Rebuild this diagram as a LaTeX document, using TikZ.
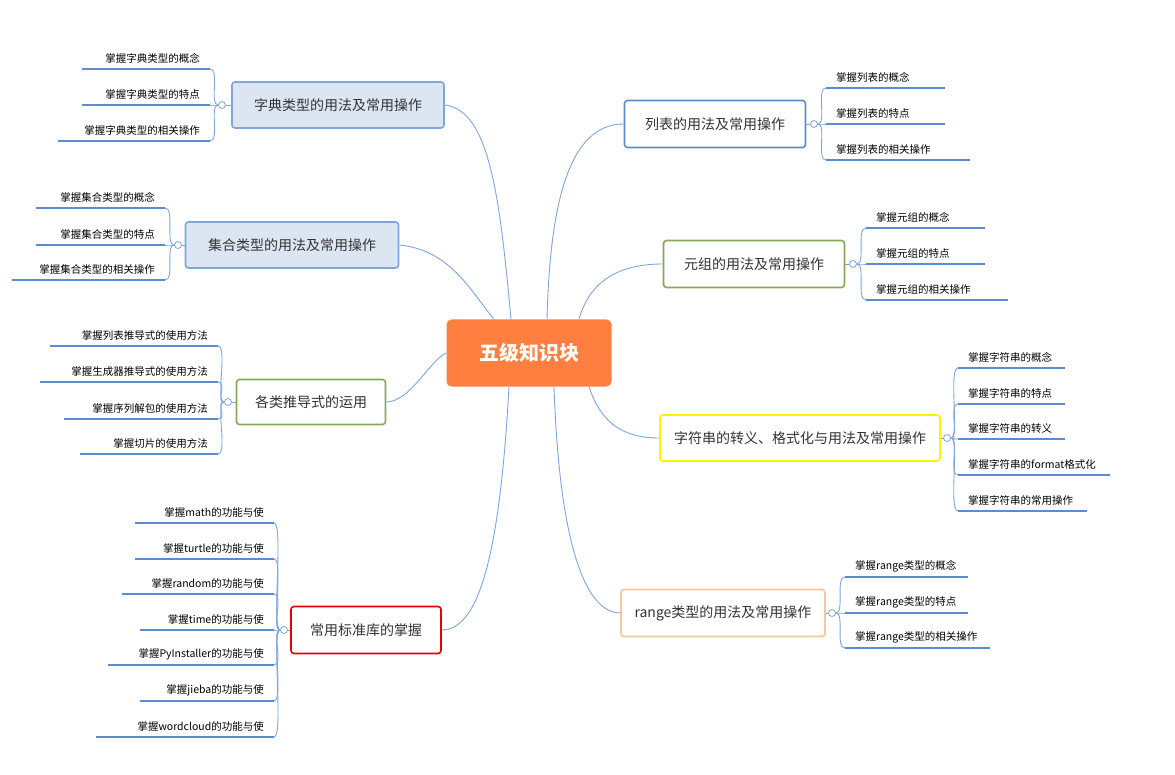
\documentclass[tikz,border=0pt]{standalone}
\usepackage{fontspec}
\setmainfont{Noto Sans CJK SC}
\usetikzlibrary{calc}
\definecolor{ln}{HTML}{7FA5DA}
\definecolor{ul}{HTML}{5B8BD0}
\definecolor{dkb}{HTML}{DCE6F2}
\definecolor{dbord}{HTML}{7EA6DC}
\definecolor{orng}{HTML}{FF7F40}
\definecolor{grn}{HTML}{8AA65A}
\definecolor{yel}{HTML}{FFF200}
\definecolor{peach}{HTML}{FAC59A}
\tikzset{
 mainbox/.style={draw,line width=1.6pt,rounded corners=3pt,minimum height=46pt,font=\fontsize{14}{16}\selectfont,text=black!80,anchor=center,inner sep=0pt},
 leaf/.style={font=\fontsize{10.5}{12}\selectfont,inner sep=0pt,text=black},
 hub/.style={circle,draw=ln,fill=white,minimum size=7pt,inner sep=0pt,line width=0.8pt},
 br/.style={draw=ln,line width=0.9pt},
 uline/.style={draw=ul,line width=2.2pt}
}
\newcommand{\leafL}[6]{%
 \coordinate (#1r) at (#5,#3); \coordinate (#1l) at (#4,#3);
 \draw[br] (#2.west) .. controls ($(#2.west)+(-9,0)$) and ($(#1r)+(10,0)$) .. (#1r);
 \draw[uline] (#1l) -- (#1r);
 \node[leaf,anchor=south east] (#1) at ([xshift=-10pt,yshift=5pt]#1r) {#6};}
\newcommand{\leafR}[6]{%
 \coordinate (#1l) at (#4,#3); \coordinate (#1r) at (#5,#3);
 \draw[br] (#2.east) .. controls ($(#2.east)+(9,0)$) and ($(#1l)+(-10,0)$) .. (#1l);
 \draw[uline] (#1l) -- (#1r);
 \node[leaf,anchor=south west] (#1) at ([xshift=10pt,yshift=5pt]#1l) {#6};}
\begin{document}
\begin{tikzpicture}[x=1pt,y=-1pt]
\useasboundingbox (0,0) rectangle (1175,775);
\node[fill=orng,rounded corners=5pt,minimum width=165pt,minimum height=67pt,text=white,font=\fontsize{20}{22}\selectfont\bfseries] (c) at (529,353) {五级知识块};
\node[mainbox,draw=dbord,fill=dkb,minimum width=212pt] (d) at (338,105) {字典类型的用法及常用操作};
\node[mainbox,draw=dbord,fill=dkb,minimum width=213pt] (s) at (292,245) {集合类型的用法及常用操作};
\node[mainbox,draw=grn,fill=white,minimum width=149pt,minimum height=45pt] (g) at (311,402) {各类推导式的运用};
\node[mainbox,draw=red!90!black,fill=white,minimum width=150pt,minimum height=47pt] (k) at (366,630) {常用标准库的掌握};
\node[mainbox,draw=ul,fill=white,minimum width=181pt,minimum height=47pt] (l) at (715,124) {列表的用法及常用操作};
\node[mainbox,draw=grn,fill=white,minimum width=181pt,minimum height=47pt] (y) at (754,264) {元组的用法及常用操作};
\node[mainbox,draw=yel,fill=white,minimum width=280pt,minimum height=46pt] (z) at (800,438) {字符串的转义、格式化与用法及常用操作};
\node[mainbox,draw=peach,fill=white,minimum width=204pt,minimum height=47pt] (r) at (723,613) {range类型的用法及常用操作};
\draw[br] ([xshift=-18pt]c.north) .. controls (500,200) and (490,110) .. (d.east);
\draw[br] ([xshift=-35pt]c.north) .. controls (470,290) and (450,250) .. (s.east);
\draw[br] (c.west) .. controls (430,360) and (410,402) .. (g.east);
\draw[br] ([xshift=-20pt]c.south) .. controls (500,550) and (480,630) .. (k.east);
\draw[br] ([xshift=18pt]c.north) .. controls (550,200) and (570,124) .. (l.west);
\draw[br] ([xshift=50pt]c.north) .. controls (590,280) and (620,264) .. (y.west);
\draw[br] ([xshift=60pt]c.south) .. controls (600,420) and (620,438) .. (z.west);
\draw[br] ([xshift=25pt]c.south) .. controls (560,560) and (590,613) .. (r.west);
\node[hub] (hd) at (222,105) {};
\node[hub] (hs) at (178,245) {};
\node[hub] (hg) at (228,402) {};
\node[hub] (hk) at (284,630) {};
\node[hub] (hl) at (814,124) {};
\node[hub] (hy) at (853,264) {};
\node[hub] (hz) at (947,438) {};
\node[hub] (hr) at (832,613) {};
\draw[br] (d.west) -- (hd.east); \draw[br] (s.west) -- (hs.east);
\draw[br] (g.west) -- (hg.east); \draw[br] (k.west) -- (hk.east);
\draw[br] (l.east) -- (hl.west); \draw[br] (y.east) -- (hy.west);
\draw[br] (z.east) -- (hz.west); \draw[br] (r.east) -- (hr.west);
\leafL{d1}{hd}{69}{82}{210}{掌握字典类型的概念}
\leafL{d2}{hd}{105}{82}{210}{掌握字典类型的特点}
\leafL{d3}{hd}{141}{58}{210}{掌握字典类型的相关操作}
\leafL{s1}{hs}{208}{36}{165}{掌握集合类型的概念}
\leafL{s2}{hs}{245}{36}{165}{掌握集合类型的特点}
\leafL{s3}{hs}{280}{12}{165}{掌握集合类型的相关操作}
\leafL{g1}{hg}{346}{50}{218}{掌握列表推导式的使用方法}
\leafL{g2}{hg}{382}{40}{218}{掌握生成器推导式的使用方法}
\leafL{g3}{hg}{419}{64}{218}{掌握序列解包的使用方法}
\leafL{g4}{hg}{454}{80}{218}{掌握切片的使用方法}
\leafL{k1}{hk}{523}{135}{274}{掌握math的功能与使}
\leafL{k2}{hk}{559}{135}{274}{掌握turtle的功能与使}
\leafL{k3}{hk}{594}{122}{274}{掌握random的功能与使}
\leafL{k4}{hk}{630}{140}{274}{掌握time的功能与使}
\leafL{k5}{hk}{665}{108}{274}{掌握PyInstaller的功能与使}
\leafL{k6}{hk}{701}{140}{274}{掌握jieba的功能与使}
\leafL{k7}{hk}{737}{96}{274}{掌握wordcloud的功能与使}
\leafR{l1}{hl}{88}{826}{945}{掌握列表的概念}
\leafR{l2}{hl}{124}{826}{945}{掌握列表的特点}
\leafR{l3}{hl}{160}{826}{970}{掌握列表的相关操作}
\leafR{y1}{hy}{228}{866}{985}{掌握元组的概念}
\leafR{y2}{hy}{264}{866}{985}{掌握元组的特点}
\leafR{y3}{hy}{300}{866}{1008}{掌握元组的相关操作}
\leafR{z1}{hz}{368}{958}{1065}{掌握字符串的概念}
\leafR{z2}{hz}{404}{958}{1065}{掌握字符串的特点}
\leafR{z3}{hz}{439}{958}{1065}{掌握字符串的转义}
\leafR{z4}{hz}{475}{958}{1110}{掌握字符串的format格式化}
\leafR{z5}{hz}{511}{958}{1087}{掌握字符串的常用操作}
\leafR{r1}{hr}{577}{845}{968}{掌握range类型的概念}
\leafR{r2}{hr}{613}{845}{968}{掌握range类型的特点}
\leafR{r3}{hr}{648}{845}{990}{掌握range类型的相关操作}
\end{tikzpicture}
\end{document}
